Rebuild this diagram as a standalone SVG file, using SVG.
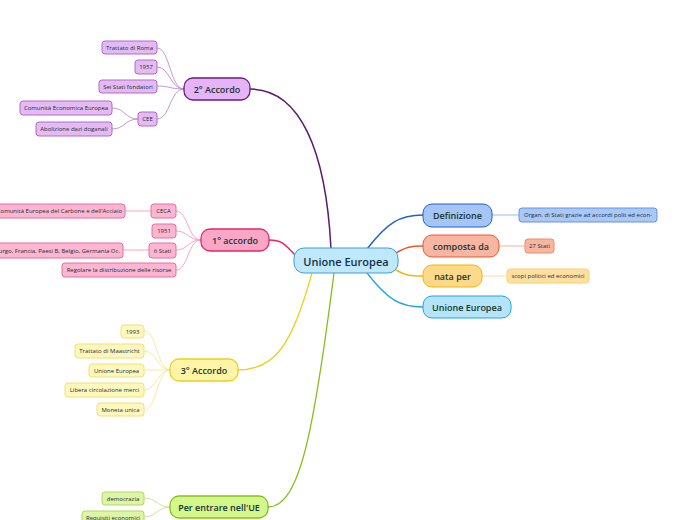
<svg xmlns="http://www.w3.org/2000/svg" width="696" height="520" viewBox="0 0 696 520">
<style>
text{font-family:"Open Sans","Noto Sans","DejaVu Sans",sans-serif;fill:#1c2b36}
.m{font-size:9px;text-anchor:middle;dominant-baseline:central;font-weight:600;fill:#173530}
.c{font-size:11px;text-anchor:middle;dominant-baseline:central;font-weight:600;fill:#16304a}
.l{font-size:6px;text-anchor:middle;dominant-baseline:central}
.le{font-size:6px;text-anchor:end;dominant-baseline:central}
path{fill:none}
.pu rect.n{fill:#e6b3f6;stroke:#6b1d7d}
.pu rect.f{fill:#e3bbf3;stroke:#b568cc}
.pk rect.n{fill:#f9a6c7;stroke:#e6246a}
.pk rect.f{fill:#fbb6d1;stroke:#ee6c9e}
.ye rect.n{fill:#fff5a8;stroke:#ecd020}
.ye rect.f{fill:#fff8be;stroke:#f3e070}
.gr rect.n{fill:#d4f78c;stroke:#86c01a}
.gr rect.f{fill:#ddf5a6;stroke:#b3d860}
rect{stroke-width:1}
rect.n{stroke-width:1.3}
</style>
<g id="connectors">
<path d="M331,249 C326,150 300,89 250,89" stroke="#5a1a6e" stroke-width="1.5"/>
<path d="M296,256 C285,245 283,240 269,240" stroke="#e8246a" stroke-width="1.5"/>
<path d="M312,273 C292,345 275,370 238,370" stroke="#eed020" stroke-width="1.3"/>
<path d="M334,273 C314,430 300,507 268,507" stroke="#86bd1a" stroke-width="1.3"/>
<path d="M367,249 C388,222 400,215 423,215" stroke="#1f62d2" stroke-width="1.5"/>
<path d="M396,253 C406,247 411,246 423,246" stroke="#f0562a" stroke-width="1.5"/>
<path d="M396,270 C406,276 411,276 423,276" stroke="#f8b400" stroke-width="1.5"/>
<path d="M367,273 C388,300 400,307 423,307" stroke="#20a4e8" stroke-width="1.3"/>
<path d="M492,215 L519,215" stroke="#a8c6f6" stroke-width="1.2"/>
<path d="M499,246 L525,246" stroke="#f7bcaa" stroke-width="1.2"/>
<path d="M482,276 L507,276" stroke="#fce2a8" stroke-width="1.2"/>
<g stroke="#b98ccb" stroke-width="0.9">
<path d="M157,48 C170,48 170,89 184,89"/>
<path d="M157,67 C170,67 170,89 184,89"/>
<path d="M157,86 C170,86 170,89 184,89"/>
<path d="M157,119 C170,119 170,89 184,89"/>
<path d="M112,108 C125,108 125,119 138,119"/>
<path d="M112,129 C125,129 125,119 138,119"/>
</g>
<g stroke="#f49cc0" stroke-width="0.9">
<path d="M176,211 C188,211 188,240 201,240"/>
<path d="M176,231 C188,231 188,240 201,240"/>
<path d="M176,250 C188,250 188,240 201,240"/>
<path d="M176,270 C188,270 188,240 201,240"/>
<path d="M125,211 L151,211"/>
<path d="M123,250 L149,250"/>
</g>
<g stroke="#f6e79a" stroke-width="0.9">
<path d="M144,331 C157,331 157,370 170,370"/>
<path d="M144,351 C157,351 157,370 170,370"/>
<path d="M144,370 C157,370 157,370 170,370"/>
<path d="M144,390 C157,390 157,370 170,370"/>
<path d="M144,410 C157,410 157,370 170,370"/>
</g>
<g stroke="#c6e290" stroke-width="0.9">
<path d="M144,498 C157,498 157,507 170,507"/>
<path d="M144,517 C157,517 157,507 170,507"/>
</g>
</g>
<g id="center">
<rect x="294" y="248" width="104" height="25" rx="10" fill="#bfe8fb" stroke="#3aa0dc" stroke-width="1.3"/>
<text class="c" x="346" y="261">Unione Europea</text>
</g>
<g id="definizione">
<rect x="423" y="204" width="69" height="23" rx="9" fill="#a5c5f7" stroke="#1f62d2" stroke-width="1.3"/>
<text class="m" x="457.5" y="215.5">Definizione</text>
</g>
<g id="definizione-leaf">
<rect x="519" y="208" width="138" height="14" rx="3" fill="#a9c8f8" stroke="#6592e6"/>
<text class="l" x="588" y="215">Organ. di Stati grazie ad accordi polit ed econ-</text>
</g>
<g id="composta">
<rect x="423" y="235" width="76" height="22" rx="9" fill="#f7b6a2" stroke="#f0562a" stroke-width="1.3"/>
<text class="m" x="461" y="246">composta da</text>
</g>
<g id="composta-leaf">
<rect x="525" y="239" width="29" height="14" rx="3" fill="#f7b6a2" stroke="#f08a6a"/>
<text class="l" x="539.5" y="246">27 Stati</text>
</g>
<g id="nata">
<rect x="423" y="265" width="59" height="22" rx="9" fill="#fdd98a" stroke="#f8b400" stroke-width="1.3"/>
<text class="m" x="452.5" y="276">nata per</text>
</g>
<g id="nata-leaf">
<rect x="507" y="269" width="82" height="14" rx="3" fill="#fde0a0" stroke="#fbd070"/>
<text class="l" x="548" y="276">scopi politici ed economici</text>
</g>
<g id="ue-child">
<rect x="423" y="296" width="88" height="22" rx="9" fill="#b3e4f8" stroke="#20a4e8" stroke-width="1.3"/>
<text class="m" x="467" y="307">Unione Europea</text>
</g>
<g id="accordo2" class="pu">
<rect class="n" x="184" y="78" width="66" height="22" rx="9"/>
<text class="m" x="217" y="89">2° Accordo</text>
</g>
<g id="trattato-roma" class="pu"><rect class="f" x="102" y="41" width="55" height="13" rx="3"/><text class="l" x="129.5" y="47.5">Trattato di Roma</text></g>
<g id="a1957" class="pu"><rect class="f" x="135" y="60" width="22" height="14" rx="3"/><text class="l" x="146" y="67">1957</text></g>
<g id="sei-stati" class="pu"><rect class="f" x="99" y="80" width="58" height="13" rx="3"/><text class="l" x="128" y="86.5">Sei Stati fondatori</text></g>
<g id="cee" class="pu"><rect class="f" x="138" y="112" width="19" height="14" rx="3"/><text class="l" x="147.5" y="119">CEE</text></g>
<g id="cee-name" class="pu"><rect class="f" x="20" y="101" width="92" height="14" rx="3"/><text class="l" x="66" y="108">Comunità Economica Europea</text></g>
<g id="dazi" class="pu"><rect class="f" x="36" y="122" width="76" height="14" rx="3"/><text class="l" x="74" y="129">Abolizione dazi doganali</text></g>
<g id="accordo1" class="pk">
<rect class="n" x="201" y="229" width="68" height="22" rx="9"/>
<text class="m" x="235" y="240">1° accordo</text>
</g>
<g id="ceca" class="pk"><rect class="f" x="151" y="204" width="25" height="14" rx="3"/><text class="l" x="163.5" y="211">CECA</text></g>
<g id="ceca-name" class="pk"><rect class="f" x="-20" y="204" width="145" height="14" rx="3"/><text class="le" x="122" y="211">Comunità Europea del Carbone e dell'Acciaio</text></g>
<g id="a1951" class="pk"><rect class="f" x="152" y="224" width="24" height="14" rx="3"/><text class="l" x="164" y="231">1951</text></g>
<g id="sei" class="pk"><rect class="f" x="149" y="243" width="27" height="15" rx="3"/><text class="l" x="162.5" y="250.5">6 Stati</text></g>
<g id="sei-list" class="pk"><rect class="f" x="-30" y="243" width="153" height="15" rx="3"/><text class="le" x="120" y="250.5">Lussemburgo, Francia, Paesi B, Belgio, Germania Oc.</text></g>
<g id="risorse" class="pk"><rect class="f" x="62" y="263" width="114" height="14" rx="3"/><text class="l" x="119" y="270">Regolare la distribuzione delle risorse</text></g>
<g id="accordo3" class="ye">
<rect class="n" x="170" y="359" width="68" height="22" rx="9"/>
<text class="m" x="204" y="370">3° Accordo</text>
</g>
<g id="a1993" class="ye"><rect class="f" x="121" y="325" width="23" height="13" rx="3"/><text class="l" x="132.5" y="331.5">1993</text></g>
<g id="maastricht" class="ye"><rect class="f" x="75" y="344" width="69" height="14" rx="3"/><text class="l" x="109.5" y="351">Trattato di Maastricht</text></g>
<g id="ue3" class="ye"><rect class="f" x="89" y="364" width="55" height="13" rx="3"/><text class="l" x="116.5" y="370.5">Unione Europea</text></g>
<g id="merci" class="ye"><rect class="f" x="65" y="383" width="79" height="14" rx="3"/><text class="l" x="104.5" y="390">Libera circolazione merci</text></g>
<g id="moneta" class="ye"><rect class="f" x="97" y="403" width="47" height="13" rx="3"/><text class="l" x="120.5" y="409.5">Moneta unica</text></g>
<g id="entrare" class="gr">
<rect class="n" x="170" y="496" width="98" height="22" rx="9"/>
<text class="m" x="219" y="507.5">Per entrare nell'UE</text>
</g>
<g id="democrazia" class="gr"><rect class="f" x="102" y="492" width="42" height="13" rx="3"/><text class="l" x="123" y="498.5">democrazia</text></g>
<g id="requisiti" class="gr"><rect class="f" x="82" y="511" width="62" height="14" rx="3"/><text class="l" x="113" y="518">Requisiti economici</text></g>
</svg>
